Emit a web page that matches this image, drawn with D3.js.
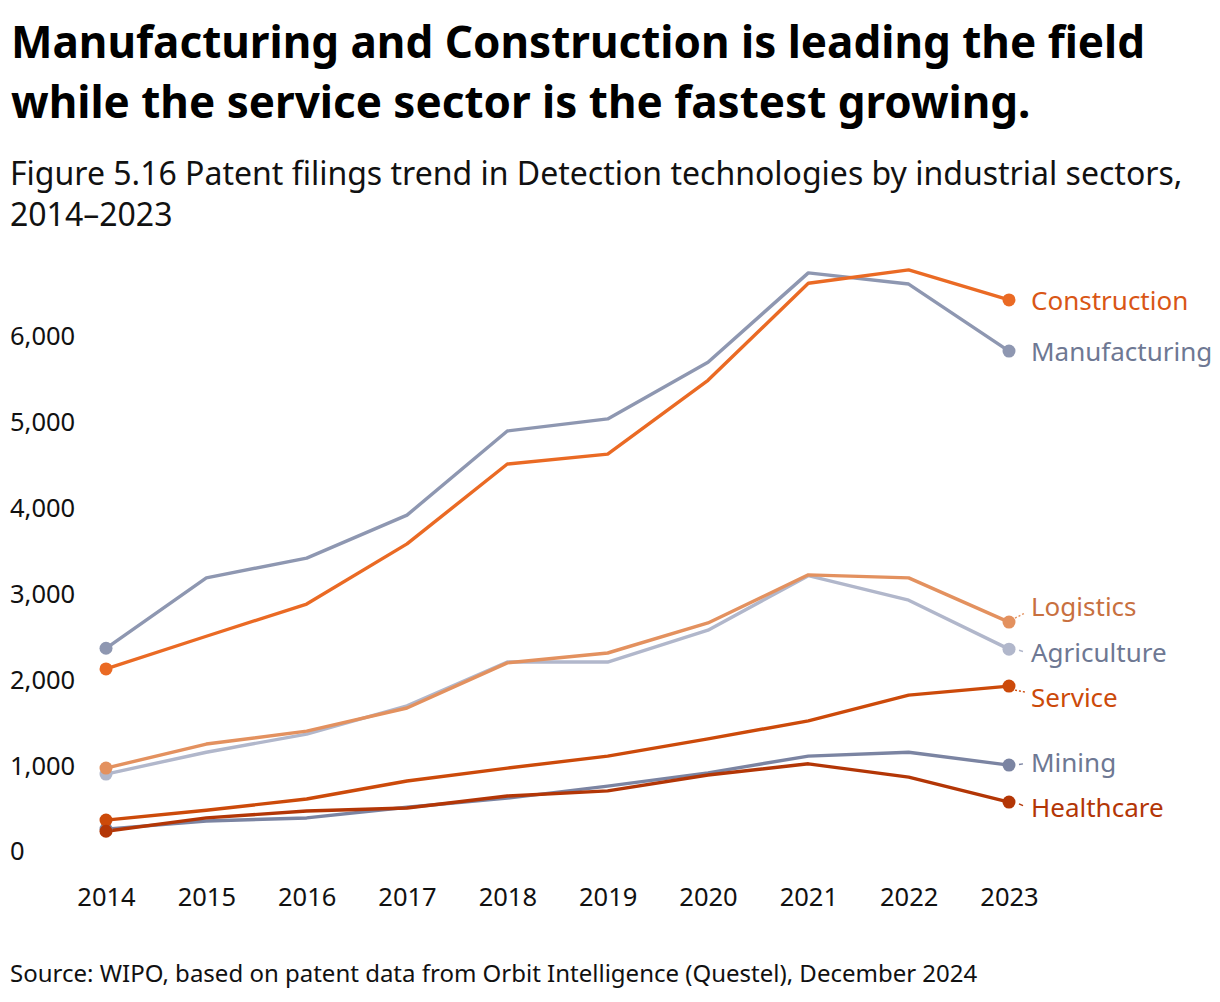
<!DOCTYPE html>
<html>
<head>
<meta charset="utf-8">
<script src="https://cdn.jsdelivr.net/npm/d3@7"></script>
<style>
  body { margin: 0; background: #fff; font-family: "Noto Sans", sans-serif; }
  svg text { font-family: "Noto Sans", sans-serif; }
</style>
</head>
<body>
<svg id="chart" width="1220" height="1002"></svg>
<script>
// Years on the x axis.
const years = [2014, 2015, 2016, 2017, 2018, 2019, 2020, 2021, 2022, 2023];

// Patent filings per sector.
const manufacturing = [2360, 3180, 3410, 3910, 4890, 5030, 5690, 6730, 6600, 5820];
const construction  = [2120, 2500, 2875, 3575, 4505, 4620, 5480, 6610, 6765, 6415];
const logistics     = [965, 1245, 1395, 1665, 2190, 2305, 2655, 3215, 3180, 2665];
const agriculture   = [895, 1150, 1360, 1690, 2200, 2200, 2570, 3205, 2920, 2350];
const service       = [360, 475, 605, 815, 965, 1105, 1305, 1515, 1815, 1920];
const mining        = [255, 350, 385, 510, 615, 755, 910, 1105, 1150, 1000];
const healthcare    = [230, 385, 465, 500, 640, 700, 885, 1015, 860, 570];

// Y axis ticks.
const yTicks = [0, 1000, 2000, 3000, 4000, 5000, 6000];

// Each series: name, values, line colour, label colour, label y (px) for the end label.
const series = [
    {name: "Manufacturing", values: manufacturing, color: "#8e97b1", text: "#6e7893", labelY: 352},
    {name: "Construction",  values: construction,  color: "#ea6a24", text: "#d95616", labelY: 301},
    {name: "Logistics",     values: logistics,     color: "#e3915f", text: "#c8703f", labelY: 607},
    {name: "Agriculture",   values: agriculture,   color: "#b1b7cb", text: "#6e7893", labelY: 653},
    {name: "Service",       values: service,       color: "#cc4a0a", text: "#cc4a0a", labelY: 698},
    {name: "Mining",        values: mining,        color: "#7b84a2", text: "#6e7893", labelY: 763},
    {name: "Healthcare",    values: healthcare,    color: "#b33606", text: "#b33606", labelY: 808}
];

const svg = d3.select("#chart");

// Title and subtitle.
svg.append("text").attr("x", 11).attr("y", 58)
    .attr("font-size", 44).attr("font-weight", 700).attr("fill", "#000")
    .text("Manufacturing and Construction is leading the field");
svg.append("text").attr("x", 11).attr("y", 118)
    .attr("font-size", 44).attr("font-weight", 700).attr("fill", "#000")
    .text("while the service sector is the fastest growing.");
svg.append("text").attr("x", 10).attr("y", 185)
    .attr("font-size", 32).attr("fill", "#111")
    .text("Figure 5.16 Patent filings trend in Detection technologies by industrial sectors,");
svg.append("text").attr("x", 10).attr("y", 226)
    .attr("font-size", 32).attr("fill", "#111")
    .text("2014–2023");

// Scales.
const x = d3.scalePoint().domain(years).range([106, 1009]);
const y = d3.scaleLinear().domain([0, 6000]).range([851, 335.6]);

// Y axis labels (left aligned, no lines).
const yAxis = svg.append("g")
    .call(d3.axisLeft(y).tickValues(yTicks).tickSize(0).tickFormat(d3.format(",")));
yAxis.select(".domain").remove();
yAxis.selectAll("text")
    .attr("x", 10).attr("dy", "0.35em")
    .attr("text-anchor", "start")
    .attr("font-size", 25.5).attr("fill", "#111")
    .style("font-family", "Noto Sans");

// X axis labels.
const xAxis = svg.append("g").attr("transform", "translate(0,897)")
    .call(d3.axisBottom(x).tickSize(0).tickPadding(0));
xAxis.select(".domain").remove();
xAxis.selectAll("text")
    .attr("dy", "0.35em")
    .attr("font-size", 25.5).attr("fill", "#111")
    .style("font-family", "Noto Sans");

const line = d3.line()
    .x((d, i) => x(years[i]))
    .y(d => y(d));

// Draw order: lower series on top like the reference.
const drawOrder = ["Manufacturing", "Construction", "Agriculture", "Logistics", "Mining", "Service", "Healthcare"];
const ordered = drawOrder.map(n => series.find(s => s.name === n));

const lines = svg.append("g");
ordered.forEach(s => {
    lines.append("path")
        .datum(s.values)
        .attr("fill", "none")
        .attr("stroke", s.color)
        .attr("stroke-width", 3.4)
        .attr("stroke-linejoin", "round")
        .attr("d", line);
});

// Start and end dots.
ordered.forEach(s => {
    const last = s.values.length - 1;
    [0, last].forEach(i => {
        lines.append("circle")
            .attr("cx", x(years[i])).attr("cy", y(s.values[i]))
            .attr("r", 6.5).attr("fill", s.color);
    });
});

// End labels with dotted leaders where the label is offset from its dot.
const labels = svg.append("g");
series.forEach(s => {
    const last = s.values.length - 1;
    const ex = x(years[last]);
    const ey = y(s.values[last]);
    const diff = s.labelY - ey;
    if (Math.abs(diff) > 8) {
        const dir = diff > 0 ? 1 : -1;
        labels.append("line")
            .attr("x1", ex + 6).attr("y1", ey + dir * 4)
            .attr("x2", ex + 16).attr("y2", s.labelY - dir * 6)
            .attr("stroke", s.color).attr("stroke-width", 1.4)
            .attr("stroke-dasharray", "2,2");
    } else if (Math.abs(diff) > 1.5) {
        labels.append("line")
            .attr("x1", ex + 10).attr("y1", ey + diff * 0.3)
            .attr("x2", ex + 14).attr("y2", ey + diff * 0.6)
            .attr("stroke", s.color).attr("stroke-width", 1.4);
    }
    labels.append("text")
        .attr("x", 1031).attr("y", s.labelY)
        .attr("dy", "0.35em")
        .attr("font-size", 26)
        .attr("fill", s.text)
        .text(s.name);
});

// Source note.
svg.append("text").attr("x", 10).attr("y", 982)
    .attr("font-size", 24).attr("fill", "#111")
    .text("Source: WIPO, based on patent data from Orbit Intelligence (Questel), December 2024");
</script>
</body>
</html>
